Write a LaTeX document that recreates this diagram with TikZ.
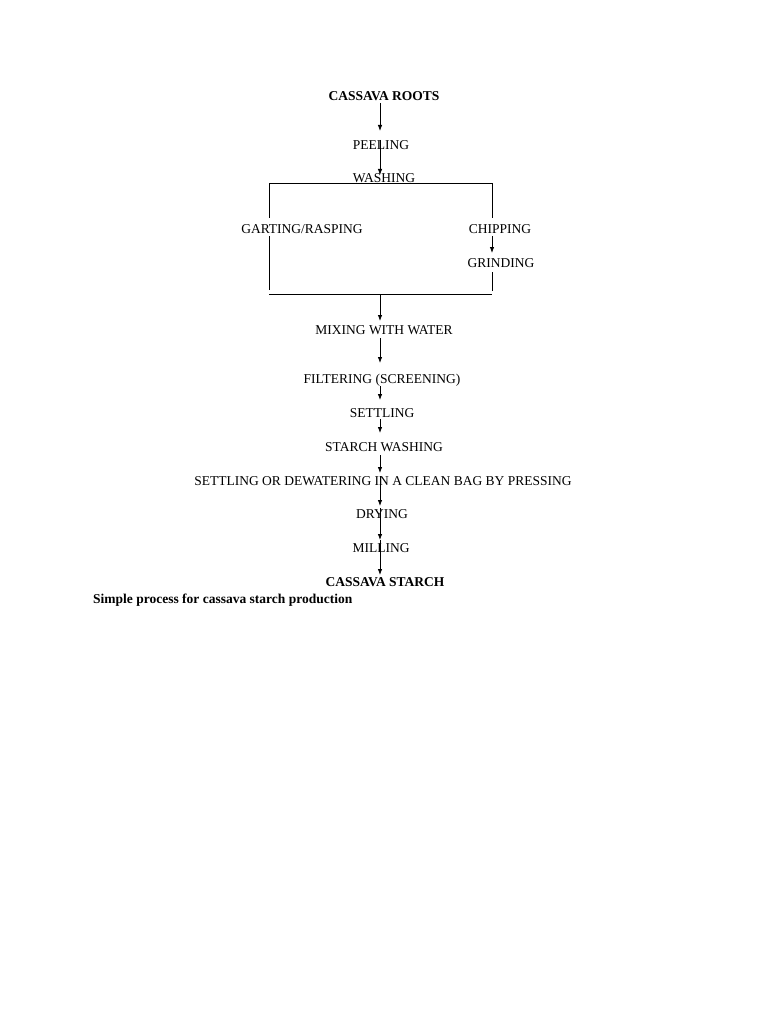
\documentclass[tikz,border=0pt]{standalone}
\usepackage{fontspec}
\setmainfont{Liberation Serif}
\usetikzlibrary{arrows.meta}
\begin{document}
\begin{tikzpicture}[x=1pt,y=-1pt,
  lbl/.style={inner sep=0pt,font=\fontsize{13.5}{16}\selectfont},
  blbl/.style={lbl,font=\fontsize{13.5}{16}\selectfont\bfseries},
  arr/.style={-{Latex[length=6pt,width=4.5pt]},line width=0.8pt},
  ln/.style={line width=0.8pt}]
\useasboundingbox (0,0) rectangle (768,1024);
\node[blbl] (roots) at (384,96) {CASSAVA ROOTS};
\node[lbl] (peel) at (381,145) {PEELING};
\node[lbl] (wash) at (384,178) {WASHING};
\node[lbl] (grate) at (302,229) {GARTING/RASPING};
\node[lbl] (chip) at (500,229) {CHIPPING};
\node[lbl] (grind) at (501,263) {GRINDING};
\node[lbl] (mix) at (384,330) {MIXING WITH WATER};
\node[lbl] (filt) at (382,380) {FILTERING (SCREENING)};
\node[lbl] (settle) at (382,413) {SETTLING};
\node[lbl] (sw) at (384,447) {STARCH WASHING};
\node[lbl] (dew) at (383,481) {SETTLING OR DEWATERING IN A CLEAN BAG BY PRESSING};
\node[lbl] (dry) at (382,514) {DRYING};
\node[lbl] (mill) at (381,548) {MILLING};
\node[blbl] (starch) at (385,582) {CASSAVA STARCH};
\node[blbl,anchor=west] (cap) at (93,600) {Simple process for cassava starch production};
\coordinate (tl) at (269,183); \coordinate (tr) at (492,183);
\coordinate (bl) at (269,294); \coordinate (br) at (492,294);
\coordinate (bm) at (380,294);
\draw[ln] (269,218) -- (tl) -- (tr) -- (492,218);
\draw[ln] (269,236) -- (269,290);
\draw[ln] (492,272) -- (492,291);
\draw[ln] (bl) -- (br);
\draw[arr] (380,103) -- (380,131);
\draw[arr] (380,140) -- (380,175);
\draw[arr] (492,236) -- (492,253);
\draw[arr] (bm) -- (380,321);
\draw[arr] (380,338) -- (380,363);
\draw[arr] (380,386) -- (380,400);
\draw[arr] (380,419) -- (380,433);
\draw[arr] (380,455) -- (380,473);
\draw[arr] (380,476) -- (380,506);
\draw[arr] (380,508) -- (380,540);
\draw[arr] (380,540) -- (380,575);
\end{tikzpicture}
\end{document}
